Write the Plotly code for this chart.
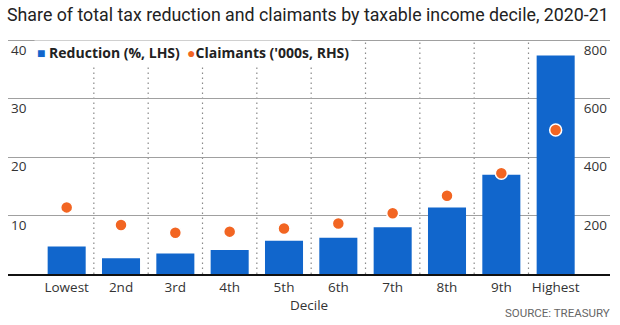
import plotly.graph_objects as go

categories = ["Lowest", "2nd", "3rd", "4th", "5th", "6th", "7th", "8th", "9th", "Highest"]
reduction_pct = [4.7, 2.7, 3.5, 4.1, 5.7, 6.2, 8.0, 11.4, 17.0, 37.4]
claimants_k = [228, 168, 141, 145, 156, 173, 208, 268, 345, 493]
left_ticks = [10, 20, 30, 40]
right_ticks = [200, 400, 600, 800]

BLUE = "#1166cc"
ORANGE = "#f26522"
FONT = "Open Sans"
TFONT = "Roboto"

fig = go.Figure()
fig.add_trace(go.Bar(
    x=categories, y=reduction_pct, name="Reduction (%, LHS)",
    marker=dict(color=BLUE, line=dict(width=0)), showlegend=False, yaxis="y",
))
fig.add_trace(go.Scatter(
    x=categories, y=claimants_k, name="Claimants ('000s, RHS)", mode="markers",
    marker=dict(color=ORANGE, size=12, line=dict(color="white", width=1.5)),
    showlegend=False, yaxis="y2",
))

shapes = []
for i in range(len(categories) - 1):
    shapes.append(dict(type="line", xref="x", yref="y", x0=i + 0.5, x1=i + 0.5,
                       y0=0, y1=40, line=dict(color="#8a8a8a", width=1.2, dash="1.5px,3.5px"),
                       layer="below"))

fig.update_layout(
    width=620, height=325,
    margin=dict(l=8, r=10, t=37.7, b=51),
    paper_bgcolor="white", plot_bgcolor="white",
    font=dict(family=FONT, color="#333333", size=13),
    bargap=0.3,
    shapes=shapes,
    xaxis=dict(
        type="category", range=[-1.08, 10.0], showgrid=False,
        showline=True, linecolor="#111111", linewidth=1.5,
        ticks="", tickfont=dict(size=13.5, color="#333333"),
        title=dict(text="Decile", font=dict(size=13.5, color="#333333"), standoff=0),
    ),
    yaxis=dict(
        range=[0, 40.4], tickvals=left_ticks, showgrid=True, gridcolor="#a0a0a0",
        gridwidth=1, zeroline=False, showline=False, ticks="",
        ticklabelposition="inside bottom", tickfont=dict(size=13.5, color="#333333"),
    ),
    yaxis2=dict(
        range=[0, 808], tickvals=right_ticks, overlaying="y", side="right",
        showgrid=False, zeroline=False, showline=False, ticks="",
        ticklabelposition="inside bottom", tickfont=dict(size=13.5, color="#333333"),
    ),
    annotations=[
        dict(text="Share of total tax reduction and claimants by taxable income decile, 2020-21",
             xref="paper", yref="paper", x=-0.005, y=1.0, yshift=24, xanchor="left", yanchor="middle",
             showarrow=False, font=dict(size=17.8, color="#222222", family=TFONT)),
        dict(text=f"<span style='color:{BLUE}'>■</span> <b>Reduction (%, LHS)</b>  "
                  f"<span style='color:{ORANGE}'>●</span><b>Claimants ('000s, RHS)</b>",
             xref="x", yref="y", x=-0.6, y=40, xanchor="left", yanchor="top",
             showarrow=False, bgcolor="white", borderpad=2,
             font=dict(size=14, color="#222222", family=FONT)),
        dict(text="SOURCE: TREASURY", xref="paper", yref="paper", x=1.003, y=0, yshift=-39,
             xanchor="right", yanchor="middle", showarrow=False,
             font=dict(size=11.5, color="#666666", family=TFONT)),
    ],
)

fig.write_html("out.html")
